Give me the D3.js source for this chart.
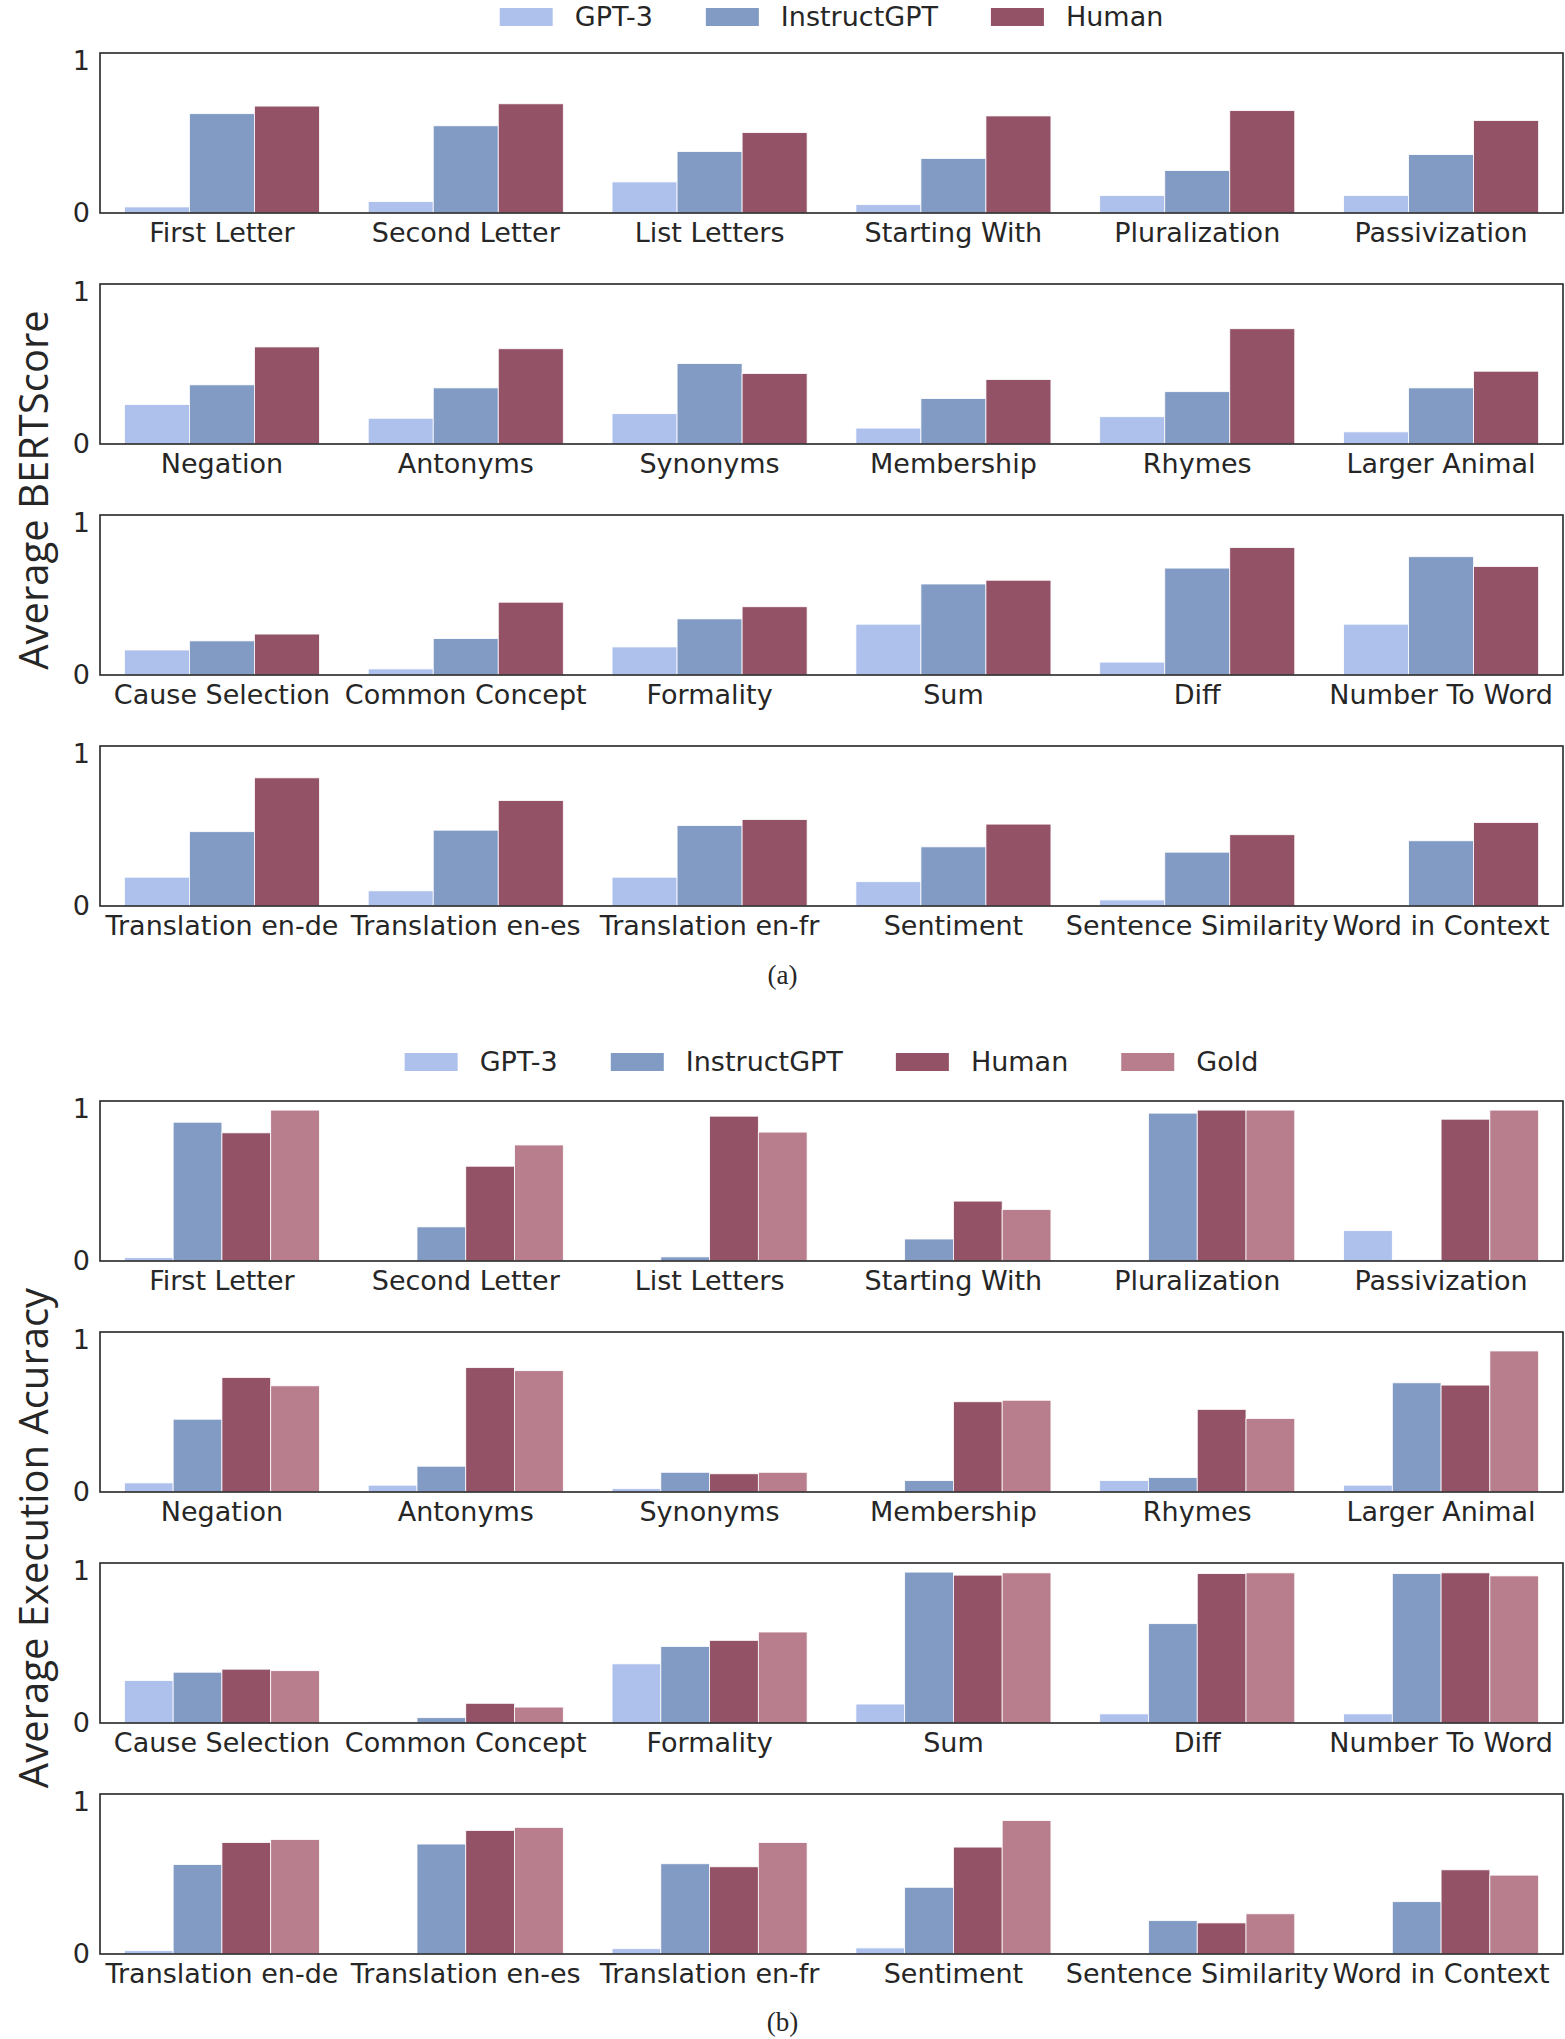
<!DOCTYPE html>
<html>
<head>
<meta charset="utf-8">
<script src="https://cdn.jsdelivr.net/npm/d3@7"></script>
<style>
  body { margin: 0; background: #fff; }
  text { font-family: "DejaVu Sans", sans-serif; fill: #262626; }
</style>
</head>
<body>
<div id="chart"></div>
<script>
// task names, one row of six per panel
const rows = [
  ['First Letter', 'Second Letter', 'List Letters', 'Starting With', 'Pluralization', 'Passivization'],
  ['Negation', 'Antonyms', 'Synonyms', 'Membership', 'Rhymes', 'Larger Animal'],
  ['Cause Selection', 'Common Concept', 'Formality', 'Sum', 'Diff', 'Number To Word'],
  ['Translation en-de', 'Translation en-es', 'Translation en-fr', 'Sentiment', 'Sentence Similarity', 'Word in Context']
];

const seriesA = ['GPT-3', 'InstructGPT', 'Human'];
const seriesB = ['GPT-3', 'InstructGPT', 'Human', 'Gold'];
const yTicks = [0, 1];

// (a) BERTScore, per row: one array per task in series order
const bertGpt3 = [
  [0.04, 0.075, 0.205, 0.055, 0.115, 0.115],
  [0.26, 0.17, 0.2, 0.105, 0.18, 0.08],
  [0.165, 0.04, 0.185, 0.335, 0.085, 0.335],
  [0.19, 0.1, 0.19, 0.16, 0.04, 0]
];
const bertInstruct = [
  [0.655, 0.575, 0.405, 0.36, 0.28, 0.385],
  [0.39, 0.37, 0.53, 0.3, 0.345, 0.37],
  [0.225, 0.24, 0.37, 0.6, 0.705, 0.78],
  [0.49, 0.5, 0.53, 0.39, 0.355, 0.43]
];
const bertHuman = [
  [0.705, 0.72, 0.53, 0.64, 0.675, 0.61],
  [0.64, 0.628, 0.465, 0.425, 0.76, 0.48],
  [0.27, 0.48, 0.45, 0.625, 0.84, 0.715],
  [0.845, 0.695, 0.57, 0.54, 0.47, 0.55]
];

// (b) execution accuracy
const execGpt3 = [
  [0.022, 0, 0, 0, 0, 0.2],
  [0.06, 0.045, 0.022, 0, 0.075, 0.045],
  [0.28, 0.008, 0.39, 0.125, 0.06, 0.06],
  [0.022, 0, 0.035, 0.04, 0, 0]
];
const execInstruct = [
  [0.915, 0.225, 0.027, 0.145, 0.975, 0.008],
  [0.48, 0.17, 0.13, 0.075, 0.095, 0.72],
  [0.335, 0.035, 0.505, 0.995, 0.655, 0.985],
  [0.59, 0.725, 0.595, 0.44, 0.22, 0.345]
];
const execHuman = [
  [0.845, 0.625, 0.955, 0.395, 0.995, 0.935],
  [0.755, 0.82, 0.12, 0.595, 0.545, 0.705],
  [0.355, 0.13, 0.545, 0.975, 0.985, 0.99],
  [0.735, 0.815, 0.575, 0.705, 0.205, 0.555]
];
const execGold = [
  [0.995, 0.765, 0.85, 0.34, 0.995, 0.995],
  [0.7, 0.8, 0.13, 0.605, 0.485, 0.93],
  [0.345, 0.105, 0.6, 0.99, 0.99, 0.97],
  [0.755, 0.835, 0.735, 0.88, 0.265, 0.52]
];

const colors = {
  'GPT-3': '#aec1ed',
  'InstructGPT': '#829bc4',
  'Human': '#935265',
  'Gold': '#b87e8e'
};

const width = 1565;
const height = 2039;
const left = 100;
const right = 1563;
const panelH = 160;

const svg = d3.select('#chart')
  .append('svg')
  .attr('width', width)
  .attr('height', height);

function drawPanel(top, cats, series, values) {
  const x = d3.scaleBand().domain(cats).range([left, right]).paddingInner(0.2).paddingOuter(0.1);
  const xs = d3.scaleBand().domain(series).range([0, x.bandwidth()]);
  const y = d3.scaleLinear().domain([0, 1.055]).range([top + panelH, top]);

  const g = svg.append('g');
  cats.forEach((c, i) => {
    const data = series.map((s, k) => ({ s: s, v: values[k][i] }));
    g.selectAll(null).data(data).enter()
      .append('rect')
      .attr('x', d => x(c) + xs(d.s))
      .attr('width', xs.bandwidth())
      .attr('y', d => y(d.v))
      .attr('height', d => y(0) - y(d.v))
      .attr('fill', d => colors[d.s])
      .attr('stroke', '#fff')
      .attr('stroke-width', 0.8);
  });

  const yAxis = d3.axisLeft(y).tickValues(yTicks).tickSize(0).tickPadding(10).tickFormat(d3.format('d'));
  const xAxis = d3.axisBottom(x).tickSize(0).tickPadding(10);

  g.append('g').attr('transform', 'translate(' + left + ',0)').call(yAxis)
    .call(a => a.select('.domain').remove())
    .selectAll('text').style('font-size', '27px').attr('fill', '#262626');
  g.append('g').attr('transform', 'translate(0,' + (top + panelH) + ')').call(xAxis)
    .call(a => a.select('.domain').remove())
    .selectAll('text').style('font-size', '27px').attr('fill', '#262626');

  g.append('rect')
    .attr('x', left).attr('y', top)
    .attr('width', right - left).attr('height', panelH)
    .attr('fill', 'none').attr('stroke', '#262626').attr('stroke-width', 1.6);
}

function drawLegend(cy, series) {
  const lg = svg.append('g');
  let cx = 0;
  series.forEach(s => {
    const item = lg.append('g').attr('transform', 'translate(' + cx + ',0)');
    item.append('rect').attr('x', 0).attr('y', cy - 9).attr('width', 53).attr('height', 18).attr('fill', colors[s]);
    const t = item.append('text').attr('x', 75).attr('y', cy + 9).style('font-size', '27px').text(s);
    cx += 75 + t.node().getComputedTextLength() + 53;
  });
  const total = cx - 53;
  lg.attr('transform', 'translate(' + ((left + right) / 2 - total / 2) + ',0)');
}

function yLabel(cy, label) {
  svg.append('text')
    .attr('transform', 'translate(48,' + cy + ') rotate(-90)')
    .attr('text-anchor', 'middle')
    .style('font-family', '"Open Sans", sans-serif')
    .style('font-size', '40px')
    .text(label);
}

function caption(cy, label) {
  svg.append('text')
    .attr('x', width / 2).attr('y', cy)
    .attr('text-anchor', 'middle')
    .style('font-family', '"Liberation Serif", serif')
    .style('font-size', '27px')
    .attr('fill', '#000')
    .text(label);
}

const topsA = [53, 284, 515, 746];
const topsB = [1101, 1332, 1563, 1794];

drawLegend(17, seriesA);
rows.forEach((cats, r) => drawPanel(topsA[r], cats, seriesA, [bertGpt3[r], bertInstruct[r], bertHuman[r]]));
yLabel(490, 'Average BERTScore');
caption(984, '(a)');

drawLegend(1062, seriesB);
rows.forEach((cats, r) => drawPanel(topsB[r], cats, seriesB, [execGpt3[r], execInstruct[r], execHuman[r], execGold[r]]));
yLabel(1538, 'Average Execution Acuracy');
caption(2031, '(b)');
</script>
</body>
</html>
